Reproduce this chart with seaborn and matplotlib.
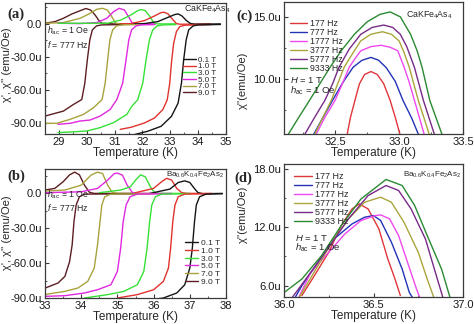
import matplotlib
matplotlib.use("Agg")
import matplotlib.pyplot as plt
import seaborn as sns
from matplotlib.ticker import FixedLocator, FixedFormatter, AutoMinorLocator

# ---------------- labels
fields = ["0.1 T", "1.0 T", "3.0 T", "5.0 T", "7.0 T", "9.0 T"]
freqs = ["177 Hz", "777 Hz", "1777 Hz", "3777 Hz", "5777 Hz", "9333 Hz"]

# ---------------- panel (a): CaKFe4As4, chi' (re) and chi'' (im), units of 1e-6 emu/Oe
a01_re_T = [31.70, 32.19, 32.67, 33.04, 33.28, 33.40, 33.48, 33.57, 33.66, 33.82, 34.00, 34.80]
a01_re_V = [-100.6, -97.5, -93.0, -84.0, -71.9, -53.8, -32.6, -14.5, -5.4, -1.8, -0.9, -0.5]
a10_re_T = [31.20, 31.59, 32.07, 32.43, 32.73, 32.89, 32.98, 33.04, 33.12, 33.22, 33.34, 33.52, 34.45]
a10_re_V = [-95.8, -93.9, -90.0, -85.5, -77.9, -68.9, -53.8, -35.6, -17.5, -6.9, -2.4, -1.2, -0.6]
a30_re_T = [28.97, 29.40, 30.00, 30.48, 30.96, 31.44, 31.62, 31.83, 32.01, 32.13, 32.25, 32.37, 32.53, 32.73, 33.20]
a30_re_V = [-98.7, -98.2, -97.3, -94.2, -89.7, -82.2, -74.7, -68.9, -53.8, -32.6, -14.5, -5.4, -1.8, -0.9, -0.6]
a50_re_T = [28.97, 29.40, 29.76, 30.12, 30.48, 30.84, 31.08, 31.29, 31.41, 31.51, 31.61, 31.77, 31.95, 32.45]
a50_re_V = [-91.2, -90.3, -88.2, -87.3, -83.7, -77.7, -68.7, -53.8, -32.6, -14.5, -5.4, -1.8, -0.9, -0.6]
a70_re_T = [28.50, 28.92, 29.40, 29.88, 30.24, 30.55, 30.66, 30.75, 30.83, 30.93, 31.07, 31.25, 31.90]
a70_re_V = [-90.3, -90.3, -86.7, -82.2, -76.2, -68.7, -53.8, -32.6, -14.5, -5.4, -1.8, -0.9, -0.6]
a90_re_T = [28.50, 29.16, 29.52, 29.82, 29.93, 30.02, 30.11, 30.20, 30.35, 30.53, 31.30]
a90_re_V = [-83.7, -79.2, -73.2, -68.7, -53.8, -32.6, -14.5, -5.4, -1.8, -0.9, -0.6]

a01_im_T = [31.70, 32.07, 32.55, 32.92, 33.16, 33.28, 33.42, 33.58, 33.73, 33.88, 34.80]
a01_im_V = [0.0, 0.3, 2.1, 6.0, 8.5, 9.1, 7.2, 3.0, 0.3, -0.3, 0.0]
a10_im_T = [31.20, 31.59, 32.07, 32.43, 32.67, 32.78, 32.92, 33.10, 33.22, 33.34, 34.45]
a10_im_V = [0.0, 0.3, 3.0, 7.2, 10.3, 10.6, 9.1, 3.6, 0.3, -0.3, 0.0]
a30_im_T = [28.97, 30.75, 31.23, 31.59, 31.83, 31.95, 32.10, 32.27, 32.40, 32.52, 33.20]
a30_im_V = [0.6, 0.6, 3.6, 8.2, 12.1, 13.0, 12.1, 6.6, 1.2, 0.0, 0.0]
a50_im_T = [28.97, 29.76, 30.36, 30.72, 30.96, 31.17, 31.35, 31.50, 31.62, 31.74, 32.45]
a50_im_V = [0.6, 0.3, 1.2, 5.1, 11.1, 14.2, 12.6, 6.6, 1.2, 0.0, 0.0]
a70_im_T = [28.50, 29.16, 29.76, 30.12, 30.36, 30.56, 30.74, 30.90, 31.02, 31.14, 31.90]
a70_im_V = [0.6, 1.2, 5.1, 9.6, 13.3, 14.2, 12.6, 6.6, 1.2, 0.0, 0.0]
a90_im_T = [28.50, 28.86, 29.16, 29.46, 29.76, 29.97, 30.14, 30.30, 30.42, 30.54, 30.95, 31.30]
a90_im_V = [0.6, 2.1, 5.1, 9.0, 12.0, 14.0, 12.6, 8.1, 3.6, 0.6, 0.0, 0.0]

# ---------------- panel (b): Ba0.6K0.4Fe2As2
b01_re_T = [35.73, 36.27, 36.64, 36.86, 37.00, 37.07, 37.13, 37.18, 37.27, 37.45, 37.90]
b01_re_V = [-92.3, -90.0, -85.7, -78.6, -64.3, -47.1, -24.3, -10.0, -2.9, -0.6, -0.3]
b10_re_T = [35.00, 35.55, 36.00, 36.27, 36.41, 36.47, 36.53, 36.59, 36.68, 36.86, 37.60]
b10_re_V = [-90.0, -87.1, -82.9, -75.7, -64.3, -47.1, -24.3, -10.0, -2.9, -0.6, -0.3]
b30_re_T = [34.09, 34.73, 35.18, 35.55, 35.73, 35.82, 35.89, 35.95, 36.05, 36.23, 37.00]
b30_re_V = [-90.0, -87.1, -84.3, -78.6, -67.1, -47.1, -24.3, -10.0, -2.9, -0.6, -0.3]
b50_re_T = [33.00, 33.55, 34.09, 34.45, 34.82, 35.00, 35.09, 35.16, 35.24, 35.35, 35.55, 36.50]
b50_re_V = [-88.6, -88.0, -85.7, -82.9, -78.6, -67.1, -47.1, -24.3, -10.0, -2.9, -0.6, -0.3]
b70_re_T = [33.00, 33.55, 33.91, 34.18, 34.36, 34.45, 34.52, 34.57, 34.65, 34.82, 36.00]
b70_re_V = [-87.0, -84.3, -81.4, -75.7, -64.3, -44.3, -24.3, -10.0, -2.9, -0.6, -0.3]
b90_re_T = [33.00, 33.36, 33.55, 33.68, 33.75, 33.80, 33.86, 33.95, 34.09, 35.50]
b90_re_V = [-81.5, -77.1, -71.4, -58.6, -44.3, -24.3, -10.0, -2.9, -0.6, -0.3]

b01_im_T = [35.90, 36.45, 36.68, 36.86, 37.00, 37.14, 37.23, 37.36, 37.90]
b01_im_V = [0.0, 3.7, 9.4, 10.8, 9.4, 3.7, 0.6, -0.3, 0.0]
b10_im_T = [35.50, 36.00, 36.22, 36.36, 36.50, 36.64, 36.78, 36.92, 37.60]
b10_im_V = [0.6, 4.3, 10.0, 13.0, 11.4, 4.3, 0.6, 0.0, 0.0]
b30_im_T = [34.50, 35.09, 35.36, 35.50, 35.64, 35.77, 35.91, 36.02, 36.14, 37.00]
b30_im_V = [0.6, 2.9, 5.7, 11.4, 16.0, 14.3, 5.7, 0.9, 0.0, 0.0]
b50_im_T = [33.00, 34.00, 34.45, 34.73, 34.91, 35.00, 35.14, 35.27, 35.41, 35.55, 36.50]
b50_im_V = [0.6, 1.4, 4.3, 11.4, 17.0, 17.5, 15.7, 7.1, 0.9, 0.0, 0.0]
b70_im_T = [33.00, 33.55, 34.00, 34.27, 34.45, 34.59, 34.73, 34.86, 35.00, 36.00]
b70_im_V = [2.0, 2.9, 7.1, 15.7, 18.3, 17.1, 7.1, 0.9, 0.0, 0.0]
b90_im_T = [33.00, 33.27, 33.50, 33.68, 33.82, 33.95, 34.09, 34.23, 34.36, 35.50]
b90_im_V = [2.9, 4.3, 10.0, 16.0, 18.3, 16.0, 7.1, 0.9, 0.0, 0.0]

# ---------------- panel (c): CaKFe4As4 chi'' at H = 1 T for several frequencies
c177_T = [32.59, 32.62, 32.655, 32.69, 32.73, 32.78, 32.83, 32.88, 32.93, 32.97, 33.01]
c177_V = [5.3, 6.9, 8.27, 9.6, 10.35, 10.59, 10.35, 9.6, 8.27, 6.9, 5.4]
c777_T = [32.31, 32.40, 32.48, 32.56, 32.64, 32.71, 32.78, 32.84, 32.90, 32.97, 33.03, 33.10, 33.16]
c777_V = [5.1, 6.8, 8.27, 9.7, 10.93, 11.5, 11.73, 11.5, 10.9, 9.8, 8.27, 6.8, 5.3]
c1777_T = [32.34, 32.42, 32.50, 32.56, 32.61, 32.66, 32.70, 32.78, 32.86, 32.93, 32.99, 33.04, 33.08, 33.12, 33.20]
c1777_V = [5.3, 6.9, 8.27, 9.7, 10.93, 11.7, 12.26, 12.6, 12.71, 12.55, 12.26, 10.93, 9.7, 8.27, 5.4]
c3777_T = [32.33, 32.40, 32.47, 32.52, 32.57, 32.64, 32.70, 32.78, 32.87, 32.94, 33.00, 33.04, 33.08, 33.15, 33.24]
c3777_V = [5.3, 6.8, 8.27, 9.6, 10.93, 12.1, 13.06, 13.6, 13.80, 13.6, 13.06, 12.1, 10.93, 8.27, 5.4]
c5777_T = [32.25, 32.34, 32.42, 32.48, 32.53, 32.61, 32.70, 32.79, 32.88, 32.95, 33.01, 33.06, 33.12, 33.19, 33.28]
c5777_V = [5.3, 6.9, 8.27, 9.6, 10.93, 12.4, 13.59, 14.15, 14.34, 14.15, 13.59, 12.6, 10.93, 8.27, 5.4]
c9333_T = [32.12, 32.21, 32.30, 32.38, 32.46, 32.55, 32.65, 32.75, 32.85, 32.93, 33.01, 33.09, 33.14, 33.18, 33.24, 33.34]
c9333_V = [5.3, 6.8, 8.27, 9.6, 10.93, 12.3, 13.59, 14.6, 15.2, 15.40, 15.0, 13.59, 12.3, 10.93, 8.27, 5.4]

# ---------------- panel (d): Ba0.6K0.4Fe2As2 chi'' at H = 1 T
d177_T = [36.10, 36.17, 36.25, 36.32, 36.38, 36.42, 36.47, 36.53, 36.58, 36.62, 36.65]
d177_V = [4.98, 7.03, 9.43, 12.18, 13.88, 14.40, 13.88, 11.83, 8.74, 6.68, 4.98]
d777_T = [36.06, 36.10, 36.19, 36.28, 36.38, 36.45, 36.50, 36.54, 36.60, 36.66, 36.70, 36.72]
d777_V = [4.7, 6.0, 8.40, 10.80, 12.34, 13.03, 13.2, 12.69, 10.46, 7.71, 5.31, 4.7]
d1777_T = [36.08, 36.15, 36.25, 36.34, 36.43, 36.51, 36.54, 36.59, 36.64, 36.69, 36.74, 36.76]
d1777_V = [4.7, 7.37, 9.43, 11.31, 12.69, 13.20, 13.27, 12.86, 11.15, 8.40, 5.66, 4.7]
d3777_T = [36.08, 36.19, 36.28, 36.36, 36.45, 36.54, 36.60, 36.67, 36.75, 36.80, 36.84]
d3777_V = [4.63, 8.06, 10.80, 12.86, 14.57, 15.09, 14.57, 12.52, 9.43, 6.68, 4.63]
d5777_T = [36.04, 36.15, 36.27, 36.36, 36.47, 36.57, 36.64, 36.71, 36.79, 36.84, 36.89]
d5777_V = [4.63, 7.37, 10.46, 12.86, 15.26, 16.29, 15.78, 13.88, 10.80, 7.71, 4.63]
d9333_T = [35.96, 35.99, 36.10, 36.21, 36.32, 36.43, 36.57, 36.66, 36.73, 36.80, 36.88, 36.93]
d9333_V = [4.9, 5.14, 6.68, 9.09, 12.18, 14.91, 16.91, 16.29, 14.23, 11.15, 7.71, 4.63]

# tick labels
ab_yticks = [0, -30, -60, -90]
ab_yticklabels = ["0.0", "-30.0u", "-60.0u", "-90.0u"]
a_xticks = [29, 30, 31, 32, 33, 34, 35]
b_xticks = [33, 34, 35, 36, 37, 38]
c_xticks = [32.5, 33.0, 33.5]
c_xticklabels = ["32.5", "33.0", "33.5"]
c_yticks = [10, 15]
c_yticklabels = ["10.0u", "15.0u"]
d_xticks = [36.0, 36.5, 37.0]
d_xticklabels = ["36.0", "36.5", "37.0"]
d_yticks = [6, 12, 18]
d_yticklabels = ["6.0u", "12.0u", "18.0u"]

# ---------------- style
sns.set_theme(style="ticks")
plt.rcParams["font.family"] = ["Liberation Sans", "DejaVu Sans"]
plt.rcParams["mathtext.fontset"] = "custom"
plt.rcParams["mathtext.rm"] = "Liberation Sans"
plt.rcParams["mathtext.it"] = "Liberation Sans:italic"
plt.rcParams["mathtext.bf"] = "Liberation Sans:bold"

field_colors = ["#151515", "#e0332e", "#36e036", "#e028e0", "#a8a23c", "#5c1e22"]
freq_colors = ["#e0363a", "#2233b8", "#ee48ee", "#aaa63c", "#782a88", "#2a8a32"]

fig = plt.figure(figsize=(4.74, 3.24), dpi=100)
W, H = 474.0, 324.0


def axes_px(left, right, top, bottom):
    return fig.add_axes([left / W, 1 - bottom / H, (right - left) / W, (bottom - top) / H])


axA = axes_px(45, 226, 3, 134)
axB = axes_px(45, 226, 169, 298)
axC = axes_px(284, 463, 2, 134)
axD = axes_px(284, 463, 164, 297)


def curve(ax, T, V, color, label=None):
    sns.lineplot(x=T, y=V, ax=ax, color=color, linewidth=1.0, sort=False,
                 estimator=None, label=label, legend=False)


re_a = [(a01_re_T, a01_re_V), (a10_re_T, a10_re_V), (a30_re_T, a30_re_V),
        (a50_re_T, a50_re_V), (a70_re_T, a70_re_V), (a90_re_T, a90_re_V)]
im_a = [(a01_im_T, a01_im_V), (a10_im_T, a10_im_V), (a30_im_T, a30_im_V),
        (a50_im_T, a50_im_V), (a70_im_T, a70_im_V), (a90_im_T, a90_im_V)]
re_b = [(b01_re_T, b01_re_V), (b10_re_T, b10_re_V), (b30_re_T, b30_re_V),
        (b50_re_T, b50_re_V), (b70_re_T, b70_re_V), (b90_re_T, b90_re_V)]
im_b = [(b01_im_T, b01_im_V), (b10_im_T, b10_im_V), (b30_im_T, b30_im_V),
        (b50_im_T, b50_im_V), (b70_im_T, b70_im_V), (b90_im_T, b90_im_V)]
c_curves = [(c177_T, c177_V), (c777_T, c777_V), (c1777_T, c1777_V),
            (c3777_T, c3777_V), (c5777_T, c5777_V), (c9333_T, c9333_V)]
d_curves = [(d177_T, d177_V), (d777_T, d777_V), (d1777_T, d1777_V),
            (d3777_T, d3777_V), (d5777_T, d5777_V), (d9333_T, d9333_V)]

for ax, res, ims in [(axA, re_a, im_a), (axB, re_b, im_b)]:
    for i in range(len(fields) - 1, -1, -1):
        curve(ax, ims[i][0], ims[i][1], field_colors[i])
    for i in range(len(fields) - 1, -1, -1):
        curve(ax, res[i][0], res[i][1], field_colors[i], label=fields[i])

for ax, cs in [(axC, c_curves), (axD, d_curves)]:
    for i in range(len(freqs)):
        curve(ax, cs[i][0], cs[i][1], freq_colors[i], label=freqs[i])

tick_fs = 8
for ax in [axA, axB, axC, axD]:
    for s in ax.spines.values():
        s.set_color("#3a3a3a")
        s.set_linewidth(0.9)
    ax.tick_params(axis="both", which="major", direction="in", length=3, width=0.8,
                   labelsize=tick_fs, pad=2, colors="#3a3a3a", labelcolor="#1a1a1a")
    ax.tick_params(axis="both", which="minor", direction="in", length=1.6, width=0.6,
                   colors="#3a3a3a")
    ax.xaxis.set_minor_locator(AutoMinorLocator(2))
    ax.yaxis.set_minor_locator(AutoMinorLocator(2))
    ax.set_xlabel("Temperature (K)", fontsize=8.5, labelpad=0)
    ax.set_facecolor("white")

axA.set_xlim(28.5, 35.0)
axA.set_ylim(-100, 19)
axA.xaxis.set_major_locator(FixedLocator(a_xticks))
axB.set_xlim(33.0, 38.0)
axB.set_ylim(-90, 21)
axB.xaxis.set_major_locator(FixedLocator(b_xticks))
for ax in [axA, axB]:
    ax.yaxis.set_major_locator(FixedLocator(ab_yticks))
    ax.yaxis.set_major_formatter(FixedFormatter(ab_yticklabels))
    ax.set_ylabel("χ', χ'' (emu/Oe)", fontsize=8)
axA.yaxis.set_label_coords(-0.185, 0.53)
axB.yaxis.set_label_coords(-0.185, 0.51)

axC.set_xlim(32.1, 33.5)
axC.set_ylim(5.55, 16.2)
axC.xaxis.set_major_locator(FixedLocator(c_xticks))
axC.xaxis.set_major_formatter(FixedFormatter(c_xticklabels))
axC.yaxis.set_major_locator(FixedLocator(c_yticks))
axC.yaxis.set_major_formatter(FixedFormatter(c_yticklabels))
axD.set_xlim(36.0, 37.0)
axD.set_ylim(4.83, 18.5)
axD.xaxis.set_major_locator(FixedLocator(d_xticks))
axD.xaxis.set_major_formatter(FixedFormatter(d_xticklabels))
axD.yaxis.set_major_locator(FixedLocator(d_yticks))
axD.yaxis.set_major_formatter(FixedFormatter(d_yticklabels))
for ax in [axC, axD]:
    ax.set_ylabel("χ''(emu/Oe)", fontsize=8)
axC.yaxis.set_label_coords(-0.2, 0.41)
axD.yaxis.set_label_coords(-0.2, 0.62)

# legends
leg_kw = dict(frameon=False, borderpad=0, borderaxespad=0,
              handletextpad=0.35, loc="upper left")
hA, lA = axA.get_legend_handles_labels()
axA.legend(hA[::-1], lA[::-1], bbox_to_anchor=(0.765, 0.595), handlelength=1.5,
           fontsize=5.8, labelspacing=-0.12, **leg_kw)
hB, lB = axB.get_legend_handles_labels()
axB.legend(hB[::-1], lB[::-1], bbox_to_anchor=(0.775, 0.457), handlelength=1.5,
           fontsize=6, labelspacing=0.0, **leg_kw)
axC.legend(bbox_to_anchor=(0.033, 0.869), handlelength=2.0, fontsize=6.3,
           labelspacing=0.0, **leg_kw)
axD.legend(bbox_to_anchor=(0.055, 0.94), handlelength=2.0, fontsize=6.5,
           labelspacing=0.0, **leg_kw)

# annotations
ann_fs = 6.3
axA.text(0.01, 0.785, r"$h_{\mathrm{ac}}$ = 1 Oe", transform=axA.transAxes, fontsize=ann_fs, va="center")
axA.text(0.01, 0.685, r"$f$ = 777 Hz", transform=axA.transAxes, fontsize=ann_fs, va="center")
axA.text(0.77, 0.955, r"CaKFe$_4$As$_4$", transform=axA.transAxes, fontsize=ann_fs, va="center")
axB.text(0.01, 0.80, r"$h_{\mathrm{ac}}$ = 1 Oe", transform=axB.transAxes, fontsize=ann_fs, va="center")
axB.text(0.01, 0.70, r"$f$ = 777 Hz", transform=axB.transAxes, fontsize=ann_fs, va="center")
axB.text(0.99, 0.955, r"Ba$_{0.6}$K$_{0.4}$Fe$_2$As$_2$", transform=axB.transAxes, fontsize=5.8,
         va="center", ha="right")
axC.text(0.68, 0.90, r"CaKFe$_4$As$_4$", transform=axC.transAxes, fontsize=ann_fs, va="center")
axC.text(0.035, 0.41, r"$H$ = 1 T", transform=axC.transAxes, fontsize=6.8, va="center")
axC.text(0.035, 0.33, r"$h_{\mathrm{ac}}$ = 1 Oe", transform=axC.transAxes, fontsize=6.8, va="center")
axD.text(0.99, 0.915, r"Ba$_{0.6}$K$_{0.4}$Fe$_2$As$_2$", transform=axD.transAxes, fontsize=5.8,
         va="center", ha="right")
axD.text(0.062, 0.444, r"$H$ = 1 T", transform=axD.transAxes, fontsize=6.8, va="center")
axD.text(0.062, 0.368, r"$h_{\mathrm{ac}}$ = 1 Oe", transform=axD.transAxes, fontsize=6.8, va="center")

# panel letters
for (px, py, s) in [(16, 14, "(a)"), (16, 176, "(b)"), (244, 16, "(c)"), (243, 178, "(d)")]:
    fig.text(px / W, 1 - py / H, s, fontsize=10.5, fontweight="bold",
             family=["Liberation Serif", "DejaVu Serif"], ha="center", va="center")

fig.savefig("out.png", dpi=100, facecolor="white")
